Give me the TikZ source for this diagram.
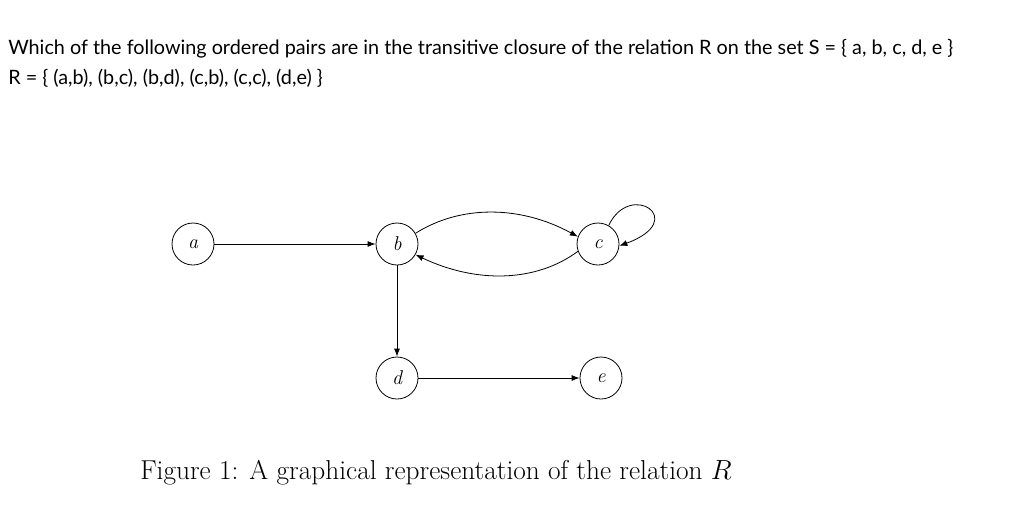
\documentclass[tikz,border=0pt]{standalone}
\usepackage{fontspec}
\newfontfamily\lato{Lato}
\usetikzlibrary{arrows.meta}
\begin{document}
\begin{tikzpicture}[x=0.75pt,y=-0.75pt,
  vtx/.style={circle,draw,semithick,minimum size=31.5pt,inner sep=0pt,font=\fontsize{15}{15}\selectfont\itshape},
  arr/.style={-{Latex[length=6pt,width=4.5pt]},semithick}]
\useasboundingbox (0,0) rectangle (1024,522);
\node[anchor=base west,inner sep=0pt,font=\lato\fontsize{14.85}{17}\selectfont] (t1) at (8,54) {Which of the following ordered pairs are in the transitive closure of the relation R on the set S = \{ a, b, c, d, e \}};
\node[anchor=base west,inner sep=0pt,font=\lato\fontsize{14.85}{17}\selectfont] (t2) at (8,84) {R = \{ (a,b), (b,c), (b,d), (c,b), (c,c), (d,e) \}};
\node[vtx] (a) at (193,244) {a};
\node[vtx] (b) at (397,244) {b};
\node[vtx] (c) at (598,244) {c};
\node[vtx] (d) at (397,378) {d};
\node[vtx] (e) at (601,378) {e};
\draw[arr] (a) -- (b);
\draw[arr] (b) -- (d);
\draw[arr] (d) -- (e);
\draw[arr] (b.30) .. controls (460,205) and (520,205) .. (c.160);
\draw[arr] (c.200) .. controls (535,283) and (475,283) .. (b.-30);
\draw[arr] (c.60) .. controls (630,180) and (690,220) .. (c.-5);
\node[anchor=base west,inner sep=0pt,font=\fontsize{20.5}{24}\selectfont] (cap) at (140,479) {Figure 1: A graphical representation of the relation $R$};
\end{tikzpicture}
\end{document}
